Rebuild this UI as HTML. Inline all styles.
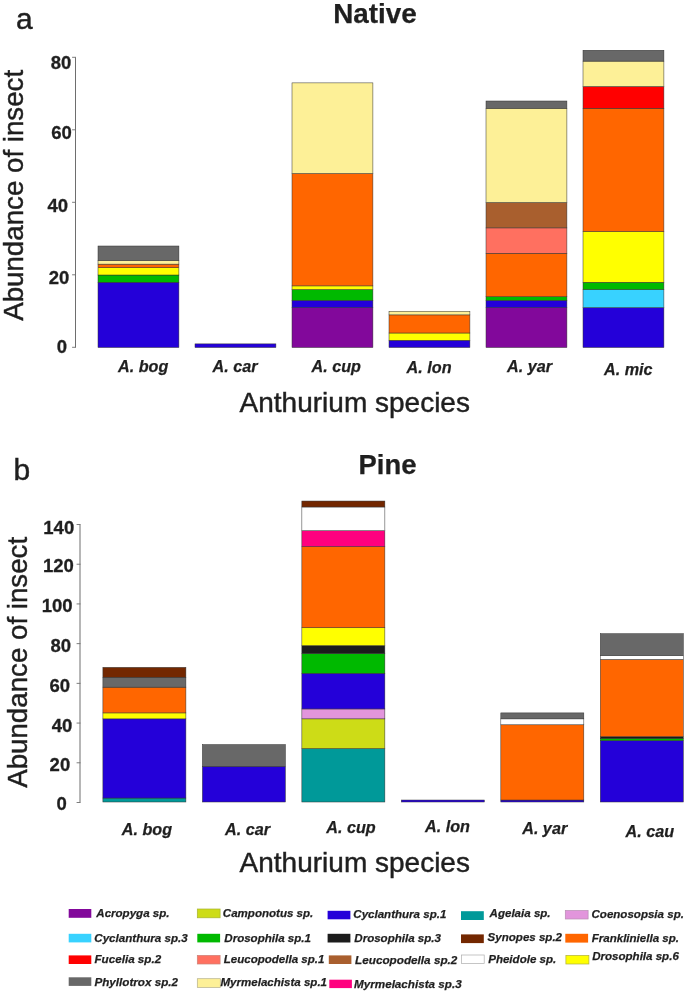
<!DOCTYPE html>
<html lang="en">
<head>
<meta charset="utf-8">
<title>Abundance of insects on Anthurium species</title>
<style>
html,body{margin:0;padding:0;background:#fff;}
body{width:685px;height:993px;overflow:hidden;}
svg{display:block;font-family:"Liberation Sans",Arial,Helvetica,sans-serif;}
</style>
</head>
<body>
<svg width="685" height="993" viewBox="0 0 685 993">
<rect x="0" y="0" width="685" height="993" fill="#ffffff"/>
<rect x="98.00" y="282.25" width="80.90" height="65.25" fill="#2400d9" stroke="#303030" stroke-width="0.5"/>
<rect x="98.00" y="275.00" width="80.90" height="7.25" fill="#00b900" stroke="#303030" stroke-width="0.5"/>
<rect x="98.00" y="267.75" width="80.90" height="7.25" fill="#ffff00" stroke="#303030" stroke-width="0.5"/>
<rect x="98.00" y="264.12" width="80.90" height="3.62" fill="#ff6600" stroke="#303030" stroke-width="0.5"/>
<rect x="98.00" y="260.50" width="80.90" height="3.62" fill="#fdf097" stroke="#303030" stroke-width="0.5"/>
<rect x="98.00" y="246.00" width="80.90" height="14.50" fill="#686868" stroke="#303030" stroke-width="0.5"/>
<rect x="195.00" y="343.88" width="80.90" height="3.62" fill="#2400d9" stroke="#303030" stroke-width="0.5"/>
<rect x="292.00" y="307.62" width="80.90" height="39.88" fill="#82089b" stroke="#303030" stroke-width="0.5"/>
<rect x="292.00" y="300.38" width="80.90" height="7.25" fill="#2400d9" stroke="#303030" stroke-width="0.5"/>
<rect x="292.00" y="289.50" width="80.90" height="10.88" fill="#00b900" stroke="#303030" stroke-width="0.5"/>
<rect x="292.00" y="285.88" width="80.90" height="3.62" fill="#ffff00" stroke="#303030" stroke-width="0.5"/>
<rect x="292.00" y="173.50" width="80.90" height="112.38" fill="#ff6600" stroke="#303030" stroke-width="0.5"/>
<rect x="292.00" y="82.88" width="80.90" height="90.62" fill="#fdf097" stroke="#303030" stroke-width="0.5"/>
<rect x="389.00" y="340.25" width="80.90" height="7.25" fill="#2400d9" stroke="#303030" stroke-width="0.5"/>
<rect x="389.00" y="333.00" width="80.90" height="7.25" fill="#ffff00" stroke="#303030" stroke-width="0.5"/>
<rect x="389.00" y="314.88" width="80.90" height="18.12" fill="#ff6600" stroke="#303030" stroke-width="0.5"/>
<rect x="389.00" y="311.25" width="80.90" height="3.62" fill="#fdf097" stroke="#303030" stroke-width="0.5"/>
<rect x="486.00" y="307.62" width="80.90" height="39.88" fill="#82089b" stroke="#303030" stroke-width="0.5"/>
<rect x="486.00" y="300.38" width="80.90" height="7.25" fill="#2400d9" stroke="#303030" stroke-width="0.5"/>
<rect x="486.00" y="296.75" width="80.90" height="3.62" fill="#00b900" stroke="#303030" stroke-width="0.5"/>
<rect x="486.00" y="253.25" width="80.90" height="43.50" fill="#ff6600" stroke="#303030" stroke-width="0.5"/>
<rect x="486.00" y="227.88" width="80.90" height="25.38" fill="#ff7060" stroke="#303030" stroke-width="0.5"/>
<rect x="486.00" y="202.50" width="80.90" height="25.38" fill="#a95f2e" stroke="#303030" stroke-width="0.5"/>
<rect x="486.00" y="108.25" width="80.90" height="94.25" fill="#fdf097" stroke="#303030" stroke-width="0.5"/>
<rect x="486.00" y="101.00" width="80.90" height="7.25" fill="#686868" stroke="#303030" stroke-width="0.5"/>
<rect x="583.00" y="307.62" width="80.90" height="39.88" fill="#2400d9" stroke="#303030" stroke-width="0.5"/>
<rect x="583.00" y="289.50" width="80.90" height="18.12" fill="#38d2ff" stroke="#303030" stroke-width="0.5"/>
<rect x="583.00" y="282.25" width="80.90" height="7.25" fill="#00b900" stroke="#303030" stroke-width="0.5"/>
<rect x="583.00" y="231.50" width="80.90" height="50.75" fill="#ffff00" stroke="#303030" stroke-width="0.5"/>
<rect x="583.00" y="108.25" width="80.90" height="123.25" fill="#ff6600" stroke="#303030" stroke-width="0.5"/>
<rect x="583.00" y="86.50" width="80.90" height="21.75" fill="#ff0000" stroke="#303030" stroke-width="0.5"/>
<rect x="583.00" y="61.12" width="80.90" height="25.38" fill="#fdf097" stroke="#303030" stroke-width="0.5"/>
<rect x="583.00" y="50.25" width="80.90" height="10.88" fill="#686868" stroke="#303030" stroke-width="0.5"/>
<path d="M75.5 57.30V347.30" stroke="#6e6e6e" stroke-width="1" fill="none"/>
<path d="M72.10 347.30H76.00" stroke="#6e6e6e" stroke-width="0.9" fill="none"/>
<path d="M72.10 274.80H76.00" stroke="#6e6e6e" stroke-width="0.9" fill="none"/>
<path d="M72.10 202.30H76.00" stroke="#6e6e6e" stroke-width="0.9" fill="none"/>
<path d="M72.10 129.80H76.00" stroke="#6e6e6e" stroke-width="0.9" fill="none"/>
<path d="M72.10 57.30H76.00" stroke="#6e6e6e" stroke-width="0.9" fill="none"/>
<text x="71.3" y="69.3" text-anchor="end" font-size="18.5" font-weight="700" fill="#1f1f1f" stroke="#1f1f1f" stroke-width="0.3">80</text>
<text x="71.9" y="139.4" text-anchor="end" font-size="18.5" font-weight="700" fill="#1f1f1f" stroke="#1f1f1f" stroke-width="0.3">60</text>
<text x="68.0" y="211.9" text-anchor="end" font-size="18.5" font-weight="700" fill="#1f1f1f" stroke="#1f1f1f" stroke-width="0.3">40</text>
<text x="69.3" y="284.0" text-anchor="end" font-size="18.5" font-weight="700" fill="#1f1f1f" stroke="#1f1f1f" stroke-width="0.3">20</text>
<text x="67.0" y="352.8" text-anchor="end" font-size="18.5" font-weight="700" fill="#1f1f1f" stroke="#1f1f1f" stroke-width="0.3">0</text>
<rect x="102.90" y="798.04" width="83.00" height="3.96" fill="#009999" stroke="#303030" stroke-width="0.5"/>
<rect x="102.90" y="718.84" width="83.00" height="79.20" fill="#2400d9" stroke="#303030" stroke-width="0.5"/>
<rect x="102.90" y="712.90" width="83.00" height="5.94" fill="#ffff00" stroke="#303030" stroke-width="0.5"/>
<rect x="102.90" y="687.16" width="83.00" height="25.74" fill="#ff6600" stroke="#303030" stroke-width="0.5"/>
<rect x="102.90" y="677.26" width="83.00" height="9.90" fill="#686868" stroke="#303030" stroke-width="0.5"/>
<rect x="102.90" y="667.36" width="83.00" height="9.90" fill="#732700" stroke="#303030" stroke-width="0.5"/>
<rect x="202.38" y="766.36" width="83.00" height="35.64" fill="#2400d9" stroke="#303030" stroke-width="0.5"/>
<rect x="202.38" y="744.58" width="83.00" height="21.78" fill="#686868" stroke="#303030" stroke-width="0.5"/>
<rect x="301.86" y="748.54" width="83.00" height="53.46" fill="#009999" stroke="#303030" stroke-width="0.5"/>
<rect x="301.86" y="718.84" width="83.00" height="29.70" fill="#cddc17" stroke="#303030" stroke-width="0.5"/>
<rect x="301.86" y="708.94" width="83.00" height="9.90" fill="#e295dc" stroke="#303030" stroke-width="0.5"/>
<rect x="301.86" y="673.30" width="83.00" height="35.64" fill="#2400d9" stroke="#303030" stroke-width="0.5"/>
<rect x="301.86" y="653.50" width="83.00" height="19.80" fill="#00b900" stroke="#303030" stroke-width="0.5"/>
<rect x="301.86" y="645.58" width="83.00" height="7.92" fill="#1c1c1c" stroke="#303030" stroke-width="0.5"/>
<rect x="301.86" y="627.76" width="83.00" height="17.82" fill="#ffff00" stroke="#303030" stroke-width="0.5"/>
<rect x="301.86" y="546.58" width="83.00" height="81.18" fill="#ff6600" stroke="#303030" stroke-width="0.5"/>
<rect x="301.86" y="530.74" width="83.00" height="15.84" fill="#ff007f" stroke="#303030" stroke-width="0.5"/>
<rect x="301.86" y="506.98" width="83.00" height="23.76" fill="#ffffff" stroke="#303030" stroke-width="0.5"/>
<rect x="301.86" y="501.04" width="83.00" height="5.94" fill="#732700" stroke="#303030" stroke-width="0.5"/>
<rect x="401.34" y="800.02" width="83.00" height="1.98" fill="#2400d9" stroke="#303030" stroke-width="0.5"/>
<rect x="500.82" y="800.02" width="83.00" height="1.98" fill="#2400d9" stroke="#303030" stroke-width="0.5"/>
<rect x="500.82" y="724.78" width="83.00" height="75.24" fill="#ff6600" stroke="#303030" stroke-width="0.5"/>
<rect x="500.82" y="718.84" width="83.00" height="5.94" fill="#ffffff" stroke="#303030" stroke-width="0.5"/>
<rect x="500.82" y="712.90" width="83.00" height="5.94" fill="#686868" stroke="#303030" stroke-width="0.5"/>
<rect x="600.30" y="740.62" width="83.00" height="61.38" fill="#2400d9" stroke="#303030" stroke-width="0.5"/>
<rect x="600.30" y="738.24" width="83.00" height="2.38" fill="#00b900" stroke="#303030" stroke-width="0.5"/>
<rect x="600.30" y="736.66" width="83.00" height="1.58" fill="#1c1c1c" stroke="#303030" stroke-width="0.5"/>
<rect x="600.30" y="659.44" width="83.00" height="77.22" fill="#ff6600" stroke="#303030" stroke-width="0.5"/>
<rect x="600.30" y="655.48" width="83.00" height="3.96" fill="#ffffff" stroke="#303030" stroke-width="0.5"/>
<rect x="600.30" y="633.70" width="83.00" height="21.78" fill="#686868" stroke="#303030" stroke-width="0.5"/>
<path d="M80.0 524.50V802.50" stroke="#6e6e6e" stroke-width="1" fill="none"/>
<path d="M76.60 802.50H80.50" stroke="#6e6e6e" stroke-width="0.9" fill="none"/>
<path d="M76.60 762.79H80.50" stroke="#6e6e6e" stroke-width="0.9" fill="none"/>
<path d="M76.60 723.07H80.50" stroke="#6e6e6e" stroke-width="0.9" fill="none"/>
<path d="M76.60 683.36H80.50" stroke="#6e6e6e" stroke-width="0.9" fill="none"/>
<path d="M76.60 643.64H80.50" stroke="#6e6e6e" stroke-width="0.9" fill="none"/>
<path d="M76.60 603.93H80.50" stroke="#6e6e6e" stroke-width="0.9" fill="none"/>
<path d="M76.60 564.22H80.50" stroke="#6e6e6e" stroke-width="0.9" fill="none"/>
<path d="M76.60 524.50H80.50" stroke="#6e6e6e" stroke-width="0.9" fill="none"/>
<text x="74.2" y="534.0" text-anchor="end" font-size="18.5" font-weight="700" fill="#1f1f1f" stroke="#1f1f1f" stroke-width="0.3">140</text>
<text x="73.8" y="572.1" text-anchor="end" font-size="18.5" font-weight="700" fill="#1f1f1f" stroke="#1f1f1f" stroke-width="0.3">120</text>
<text x="72.6" y="612.0" text-anchor="end" font-size="18.5" font-weight="700" fill="#1f1f1f" stroke="#1f1f1f" stroke-width="0.3">100</text>
<text x="71.0" y="651.8" text-anchor="end" font-size="18.5" font-weight="700" fill="#1f1f1f" stroke="#1f1f1f" stroke-width="0.3">80</text>
<text x="70.0" y="691.5" text-anchor="end" font-size="18.5" font-weight="700" fill="#1f1f1f" stroke="#1f1f1f" stroke-width="0.3">60</text>
<text x="72.3" y="732.0" text-anchor="end" font-size="18.5" font-weight="700" fill="#1f1f1f" stroke="#1f1f1f" stroke-width="0.3">40</text>
<text x="70.2" y="771.2" text-anchor="end" font-size="18.5" font-weight="700" fill="#1f1f1f" stroke="#1f1f1f" stroke-width="0.3">20</text>
<text x="66.7" y="810.4" text-anchor="end" font-size="18.5" font-weight="700" fill="#1f1f1f" stroke="#1f1f1f" stroke-width="0.3">0</text>
<text x="333.2" y="22.9" font-size="27.8" font-weight="700" stroke="#1f1f1f" stroke-width="0.25" text-anchor="start" fill="#1f1f1f">Native</text>
<text x="358.6" y="473.6" font-size="27.4" font-weight="700" stroke="#1f1f1f" stroke-width="0.25" text-anchor="start" fill="#1f1f1f">Pine</text>
<text x="16.1" y="28.8" font-size="30" font-weight="400" stroke="#1f1f1f" stroke-width="0.45" text-anchor="start" fill="#1f1f1f">a</text>
<text x="13.6" y="479.6" font-size="30" font-weight="400" stroke="#1f1f1f" stroke-width="0.45" text-anchor="start" fill="#1f1f1f">b</text>
<text x="239.6" y="412.3" font-size="28" font-weight="400" stroke="#1f1f1f" stroke-width="0.45" text-anchor="start" fill="#1f1f1f">Anthurium species</text>
<text x="239.6" y="872.3" font-size="28" font-weight="400" stroke="#1f1f1f" stroke-width="0.45" text-anchor="start" fill="#1f1f1f">Anthurium species</text>
<text transform="translate(23.4 320.8) rotate(-90)" font-size="27.7" fill="#1f1f1f" stroke="#1f1f1f" stroke-width="0.45">Abundance of insect</text>
<text transform="translate(26.9 787.8) rotate(-90)" font-size="27.7" fill="#1f1f1f" stroke="#1f1f1f" stroke-width="0.45">Abundance of insect</text>
<text x="118.0" y="371.5" font-size="16.2" font-weight="700" font-style="italic" stroke="#1f1f1f" stroke-width="0.25" text-anchor="start" fill="#1f1f1f">A. bog</text>
<text x="212.6" y="371.5" font-size="16.2" font-weight="700" font-style="italic" stroke="#1f1f1f" stroke-width="0.25" text-anchor="start" fill="#1f1f1f">A. car</text>
<text x="311.5" y="371.7" font-size="16.2" font-weight="700" font-style="italic" stroke="#1f1f1f" stroke-width="0.25" text-anchor="start" fill="#1f1f1f">A. cup</text>
<text x="406.6" y="372.9" font-size="16.2" font-weight="700" font-style="italic" stroke="#1f1f1f" stroke-width="0.25" text-anchor="start" fill="#1f1f1f">A. lon</text>
<text x="507.0" y="372.3" font-size="16.2" font-weight="700" font-style="italic" stroke="#1f1f1f" stroke-width="0.25" text-anchor="start" fill="#1f1f1f">A. yar</text>
<text x="604.0" y="374.6" font-size="16.2" font-weight="700" font-style="italic" stroke="#1f1f1f" stroke-width="0.25" text-anchor="start" fill="#1f1f1f">A. mic</text>
<text x="121.8" y="835.0" font-size="16.2" font-weight="700" font-style="italic" stroke="#1f1f1f" stroke-width="0.25" text-anchor="start" fill="#1f1f1f">A. bog</text>
<text x="225.0" y="835.0" font-size="16.2" font-weight="700" font-style="italic" stroke="#1f1f1f" stroke-width="0.25" text-anchor="start" fill="#1f1f1f">A. car</text>
<text x="326.3" y="833.2" font-size="16.2" font-weight="700" font-style="italic" stroke="#1f1f1f" stroke-width="0.25" text-anchor="start" fill="#1f1f1f">A. cup</text>
<text x="425.0" y="832.2" font-size="16.2" font-weight="700" font-style="italic" stroke="#1f1f1f" stroke-width="0.25" text-anchor="start" fill="#1f1f1f">A. lon</text>
<text x="522.2" y="834.4" font-size="16.2" font-weight="700" font-style="italic" stroke="#1f1f1f" stroke-width="0.25" text-anchor="start" fill="#1f1f1f">A. yar</text>
<text x="625.6" y="837.4" font-size="16.2" font-weight="700" font-style="italic" stroke="#1f1f1f" stroke-width="0.25" text-anchor="start" fill="#1f1f1f">A. cau</text>
<rect x="68.7" y="909.0" width="22.6" height="8.8" fill="#82089b"/>
<text x="96.3" y="917.2" font-size="11.55" font-weight="700" font-style="italic" stroke="#1f1f1f" stroke-width="0.25" text-anchor="start" fill="#1f1f1f">Acropyga sp.</text>
<rect x="68.7" y="933.8" width="22.6" height="8.6" fill="#38d2ff"/>
<text x="94.3" y="942.3" font-size="11.6" font-weight="700" font-style="italic" stroke="#1f1f1f" stroke-width="0.25" text-anchor="start" fill="#1f1f1f">Cyclanthura sp.3</text>
<rect x="68.7" y="955.4" width="22.6" height="8.6" fill="#ff0000"/>
<text x="94.5" y="963.3" font-size="11.65" font-weight="700" font-style="italic" stroke="#1f1f1f" stroke-width="0.25" text-anchor="start" fill="#1f1f1f">Fucelia sp.2</text>
<rect x="68.7" y="977.3" width="22.6" height="8.6" fill="#686868"/>
<text x="94.5" y="985.8" font-size="11.65" font-weight="700" font-style="italic" stroke="#1f1f1f" stroke-width="0.25" text-anchor="start" fill="#1f1f1f">Phyllotrox sp.2</text>
<rect x="197.3" y="909.0" width="22.8" height="8.8" fill="#cddc17" stroke="#a7b330" stroke-width="0.7"/>
<text x="222.8" y="917.2" font-size="11.55" font-weight="700" font-style="italic" stroke="#1f1f1f" stroke-width="0.25" text-anchor="start" fill="#1f1f1f">Camponotus sp.</text>
<rect x="197.3" y="933.8" width="22.8" height="8.6" fill="#00b900"/>
<text x="224.3" y="942.0" font-size="11.55" font-weight="700" font-style="italic" stroke="#1f1f1f" stroke-width="0.25" text-anchor="start" fill="#1f1f1f">Drosophila sp.1</text>
<rect x="197.3" y="955.4" width="22.8" height="8.6" fill="#ff7060" stroke="#cc8076" stroke-width="0.7"/>
<text x="223.7" y="963.0" font-size="11.55" font-weight="700" font-style="italic" stroke="#1f1f1f" stroke-width="0.25" text-anchor="start" fill="#1f1f1f">Leucopodella sp.1</text>
<rect x="197.3" y="978.7" width="23.0" height="8.7" fill="#fdf097" stroke="#b5b08a" stroke-width="0.7"/>
<text x="220.5" y="986.4" font-size="11.55" font-weight="700" font-style="italic" stroke="#1f1f1f" stroke-width="0.25" text-anchor="start" fill="#1f1f1f">Myrmelachista sp.1</text>
<rect x="327.6" y="910.8" width="22.8" height="8.5" fill="#2400d9"/>
<text x="353.3" y="918.4" font-size="11.55" font-weight="700" font-style="italic" stroke="#1f1f1f" stroke-width="0.25" text-anchor="start" fill="#1f1f1f">Cyclanthura sp.1</text>
<rect x="327.6" y="933.8" width="22.8" height="8.7" fill="#1c1c1c"/>
<text x="354.3" y="942.0" font-size="11.55" font-weight="700" font-style="italic" stroke="#1f1f1f" stroke-width="0.25" text-anchor="start" fill="#1f1f1f">Drosophila sp.3</text>
<rect x="328.8" y="955.4" width="22.6" height="8.6" fill="#a95f2e"/>
<text x="355.1" y="963.6" font-size="11.72" font-weight="700" font-style="italic" stroke="#1f1f1f" stroke-width="0.25" text-anchor="start" fill="#1f1f1f">Leucopodella sp.2</text>
<rect x="329.3" y="979.7" width="22.6" height="8.4" fill="#ff007f"/>
<text x="354.0" y="987.8" font-size="11.68" font-weight="700" font-style="italic" stroke="#1f1f1f" stroke-width="0.25" text-anchor="start" fill="#1f1f1f">Myrmelachista sp.3</text>
<rect x="461.0" y="911.2" width="22.8" height="8.8" fill="#009999"/>
<text x="489.6" y="917.2" font-size="11.55" font-weight="700" font-style="italic" stroke="#1f1f1f" stroke-width="0.25" text-anchor="start" fill="#1f1f1f">Agelaia sp.</text>
<rect x="461.0" y="934.4" width="22.8" height="8.7" fill="#732700"/>
<text x="487.6" y="941.4" font-size="11.55" font-weight="700" font-style="italic" stroke="#1f1f1f" stroke-width="0.25" text-anchor="start" fill="#1f1f1f">Synopes sp.2</text>
<rect x="461.4" y="955.0" width="22.8" height="8.6" fill="#ffffff" stroke="#adadad" stroke-width="0.7"/>
<text x="488.2" y="963.0" font-size="11.55" font-weight="700" font-style="italic" stroke="#1f1f1f" stroke-width="0.25" text-anchor="start" fill="#1f1f1f">Pheidole sp.</text>
<rect x="565.3" y="910.5" width="22.8" height="8.5" fill="#e295dc" stroke="#b78db3" stroke-width="0.7"/>
<text x="591.5" y="917.5" font-size="11.55" font-weight="700" font-style="italic" stroke="#1f1f1f" stroke-width="0.25" text-anchor="start" fill="#1f1f1f">Coenosopsia sp.</text>
<rect x="565.3" y="933.8" width="22.8" height="8.8" fill="#ff6600"/>
<text x="591.7" y="942.3" font-size="11.55" font-weight="700" font-style="italic" stroke="#1f1f1f" stroke-width="0.25" text-anchor="start" fill="#1f1f1f">Frankliniella sp.</text>
<rect x="565.9" y="955.4" width="23.0" height="8.6" fill="#ffff00" stroke="#b0b040" stroke-width="0.7"/>
<text x="592.2" y="960.4" font-size="11.55" font-weight="700" font-style="italic" stroke="#1f1f1f" stroke-width="0.25" text-anchor="start" fill="#1f1f1f">Drosophila sp.6</text>
</svg>
</body>
</html>
